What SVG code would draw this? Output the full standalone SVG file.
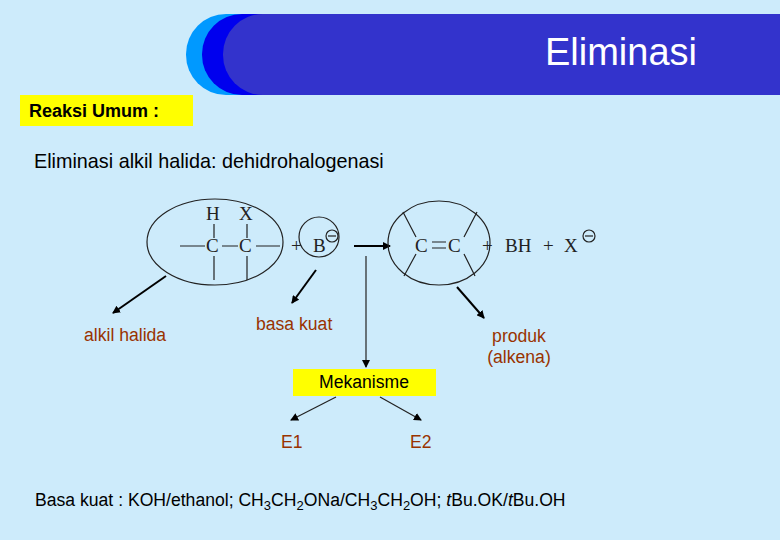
<svg xmlns="http://www.w3.org/2000/svg" width="780" height="540" viewBox="0 0 780 540">
<defs><style>
.s{font-family:"Liberation Sans",Arial,sans-serif;font-size:17.6px}
.r{fill:#993300}
.m{font-family:"Liberation Serif","Times New Roman",serif;font-size:19px;fill:#222}
.l{stroke:#222;stroke-width:1.2;fill:none}
.a{stroke:#000;stroke-width:2;fill:none}
</style>
<marker id="ah" markerWidth="8" markerHeight="8" refX="7" refY="4" orient="auto" markerUnits="userSpaceOnUse"><path d="M0,0L8,4L0,8z" fill="#000"/></marker>
</defs>
<rect width="780" height="540" fill="#cdebfb"/>
<g id="header">
<rect x="186" y="14" width="594" height="81" rx="40" fill="#0099ff"/>
<rect x="202" y="14" width="578" height="81" rx="40" fill="#0000ee"/>
<rect x="223" y="14" width="557" height="81" rx="40" fill="#3333cc"/>
<rect x="300" y="14" width="480" height="81" fill="#3333cc"/>
<text x="697" y="65" text-anchor="end" font-family="Liberation Sans,Arial,sans-serif" font-size="38" fill="#fff">Eliminasi</text>
</g>
<g id="reaksi"><rect x="20" y="95" width="173" height="31" fill="#ffff00"/><text class="s" x="29" y="117" style="font-weight:bold;font-size:18px">Reaksi Umum :</text></g>
<text class="s" x="34" y="168" style="font-size:19.8px">Eliminasi alkil halida: dehidrohalogenasi</text>
<g id="reaction">
<ellipse cx="215" cy="242" rx="68" ry="43" class="l"/>
<text class="m" x="206" y="220">H</text><text class="m" x="239" y="220">X</text>
<text class="m" x="206" y="252">C</text><text class="m" x="239" y="252">C</text>
<path class="l" d="M180,246H205M222,246H238M256,246H280M214,224V238M247,224V238M214,256V280M247,256V280"/>
<text class="m" x="291" y="252">+</text>
<circle cx="319" cy="237" r="20" class="l"/>
<text class="m" x="313" y="252">B</text>
<circle cx="332" cy="236" r="6" class="l"/><path class="l" d="M328,236H336"/>
<line x1="354" y1="246" x2="390" y2="246" class="a" marker-end="url(#ah)"/>
<ellipse cx="439" cy="243" rx="51" ry="42" class="l"/>
<text class="m" x="415" y="252">C</text><text class="m" x="448" y="252">C</text>
<path class="l" d="M432,242H446M432,248H446M416,237L403,212M416,254L404,276M464,237L477,212M464,254L475,276"/>
<text class="m" x="482" y="252">+</text>
<text class="m" x="505" y="252">BH</text>
<text class="m" x="543" y="252">+</text>
<text class="m" x="564" y="252">X</text>
<circle cx="589" cy="236" r="6" class="l"/><path class="l" d="M585,236H593"/>
</g>
<g id="connectors">
<line x1="166" y1="276" x2="113" y2="313" class="a" marker-end="url(#ah)"/>
<line x1="316" y1="270" x2="292" y2="303" class="a" marker-end="url(#ah)"/>
<line x1="457" y1="287" x2="484" y2="318" class="a" marker-end="url(#ah)"/>
<polyline points="366,256 366,367" class="l" marker-end="url(#ah)"/>
<line x1="336" y1="397" x2="291" y2="420" class="l" marker-end="url(#ah)"/>
<line x1="380" y1="397" x2="421" y2="420" class="l" marker-end="url(#ah)"/>
</g>
<text class="s r" x="84" y="341">alkil halida</text>
<text class="s r" x="256" y="330">basa kuat</text>
<text class="s r" x="519" y="342" text-anchor="middle">produk</text>
<text class="s r" x="519" y="363" text-anchor="middle">(alkena)</text>
<g id="mek"><rect x="293" y="369" width="143" height="27" fill="#ffff00"/><text class="s" x="364" y="388" text-anchor="middle">Mekanisme</text></g>
<text class="s r" x="281" y="448">E1</text>
<text class="s r" x="410" y="448">E2</text>
<text class="s" x="35" y="506">Basa kuat : KOH/ethanol; CH<tspan dy="4" font-size="13">3</tspan><tspan dy="-4">CH</tspan><tspan dy="4" font-size="13">2</tspan><tspan dy="-4">ONa/CH</tspan><tspan dy="4" font-size="13">3</tspan><tspan dy="-4">CH</tspan><tspan dy="4" font-size="13">2</tspan><tspan dy="-4">OH; </tspan><tspan font-style="italic">t</tspan>Bu.OK/<tspan font-style="italic">t</tspan>Bu.OH</text>
</svg>
